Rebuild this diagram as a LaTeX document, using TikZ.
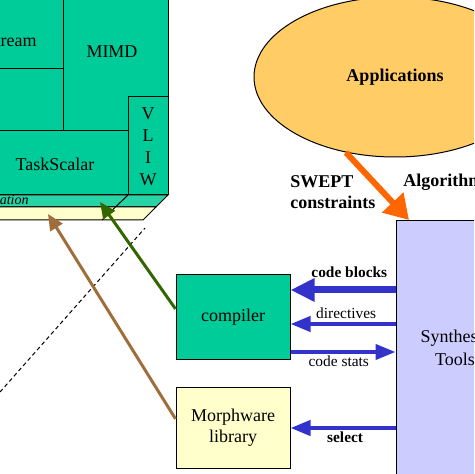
\documentclass[tikz,border=0pt]{standalone}
\usepackage{fontspec}
\setmainfont{Liberation Serif}
\usetikzlibrary{shapes.geometric,arrows.meta}
\definecolor{tealbox}{RGB}{0,204,153}
\definecolor{tealstrip}{RGB}{40,212,165}
\definecolor{creambox}{RGB}{255,255,204}
\definecolor{lavbox}{RGB}{204,204,255}
\definecolor{appsfill}{RGB}{255,204,102}
\definecolor{orangearr}{RGB}{255,102,0}
\definecolor{bluearr}{RGB}{51,51,204}
\definecolor{greenarr}{RGB}{51,102,0}
\definecolor{brownarr}{RGB}{160,110,60}
\tikzset{
  box/.style={draw,line width=0.5pt,inner sep=0pt,minimum width=57pt,align=center,font=\fontsize{9}{10.5}\selectfont},
  txt/.style={inner sep=0pt,font=\fontsize{9}{10.5}\selectfont},
  lbl/.style={inner sep=0pt,font=\fontsize{7.7}{9}\selectfont},
  fat/.style={draw=bluearr,line width=3.5pt,-{Triangle[length=12pt,width=11pt]}},
  slim/.style={draw=bluearr,line width=2pt,-{Triangle[length=10pt,width=7.5pt]}}
}
\begin{document}
\begin{tikzpicture}[x=0.5pt,y=-0.5pt]
        \useasboundingbox (0,0) rectangle (474,474);
        \clip (0,0) rectangle (474,474);
        %% Platform
        \draw[line width=0.5pt,fill=tealbox] (-10,-10) rectangle (168,195);
        \draw[line width=0.5pt] (63,-10) -- (63,131) (-10,69) -- (63,69) (-10,131) -- (128,131)
            (128,195) -- (128,97) -- (168,97);
        \draw[line width=0.5pt,fill=tealstrip] (-10,195) -- (168,195) -- (156,207) -- (-10,207) -- cycle;
        \draw[line width=0.5pt,fill=creambox] (-10,207) -- (156,207) -- (143,220) -- (-10,220) -- cycle;
        \draw[line width=0.5pt] (128,195) -- (102,220);
        \node[txt,anchor=east] (stream) at (37,41) {Stream};
        \node[txt] (mimd) at (112,52) {MIMD};
        \node[txt] (task) at (55,164) {TaskScalar};
        \node[txt,align=center,font=\fontsize{9}{11}\selectfont] (vliw) at (148,147) {V\\L\\I\\W};
        \node[inner sep=0pt,anchor=east,font=\fontsize{7}{8}\selectfont\itshape] (impl) at (29,201) {Implementation};
        %% Applications
        \node[ellipse,draw,line width=0.5pt,fill=appsfill,minimum width=141pt,minimum height=80pt,
            inner sep=0pt,font=\bfseries\fontsize{9}{10.5}\selectfont] (apps) at (395,77) {Applications};
        %% Boxes
        \node[box,fill=lavbox,minimum width=59pt,minimum height=127pt,font=\fontsize{9}{11.5}\selectfont] (synth) at (455,348) {Synthesis\\Tools};
        \node[box,fill=tealbox,minimum height=42pt] (comp) at (233,317) {compiler};
        \node[box,fill=creambox,minimum height=40.5pt] (morph) at (233,428) {Morphware\\library};
        %% Labels
        \node[txt,anchor=west,align=left,font=\bfseries\fontsize{9}{10.5}\selectfont] (swept) at (290,192) {SWEPT\\constraints};
        \node[txt,anchor=west,font=\bfseries\fontsize{9}{10.5}\selectfont] (algo) at (403,182) {Algorithms};
        %% Ends
        \coordinate (greentip) at (100,202);
        \coordinate (browntip) at (48,214);
        \coordinate (orangetip) at (409,220);
        \coordinate (dashA) at (0,392);
        \coordinate (dashB) at (145,228);
        %% Dashed edge
        \draw[line width=0.5pt,dash pattern=on 2pt off 1.5pt] (dashA) -- (dashB);
        %% Mapping arrows
        \draw[line width=1.5pt,draw=greenarr,-{Triangle[length=8pt,width=7pt]}] (comp.172) -- (greentip);
        \draw[line width=1.5pt,draw=brownarr,-{Triangle[length=8pt,width=7pt]}] (morph.171) -- (browntip);
        \draw[line width=3pt,draw=orangearr,-{Triangle[length=12pt,width=14pt]}] (apps.237) -- (orangetip);
        %% Tool flow
        \draw[fat] (synth.west |- 0,290) -- (comp.east |- 0,290)
            node[lbl,pos=0.44,yshift=9pt,font=\bfseries\fontsize{7.7}{9}\selectfont] (cblk) {code blocks};
        \draw[slim] (synth.west |- 0,324) -- (comp.east |- 0,324)
            node[lbl,pos=0.47,yshift=5.5pt] (dirv) {directives};
        \draw[slim] (comp.east |- 0,352) -- (synth.west |- 0,352)
            node[lbl,pos=0.46,yshift=-4.5pt] (cstat) {code stats};
        \draw[slim] (synth.west |- 0,428) -- (morph.east |- 0,428)
            node[lbl,pos=0.48,yshift=-4.5pt,font=\bfseries\fontsize{7.7}{9}\selectfont] (sel) {select};
    \end{tikzpicture}
\end{document}
